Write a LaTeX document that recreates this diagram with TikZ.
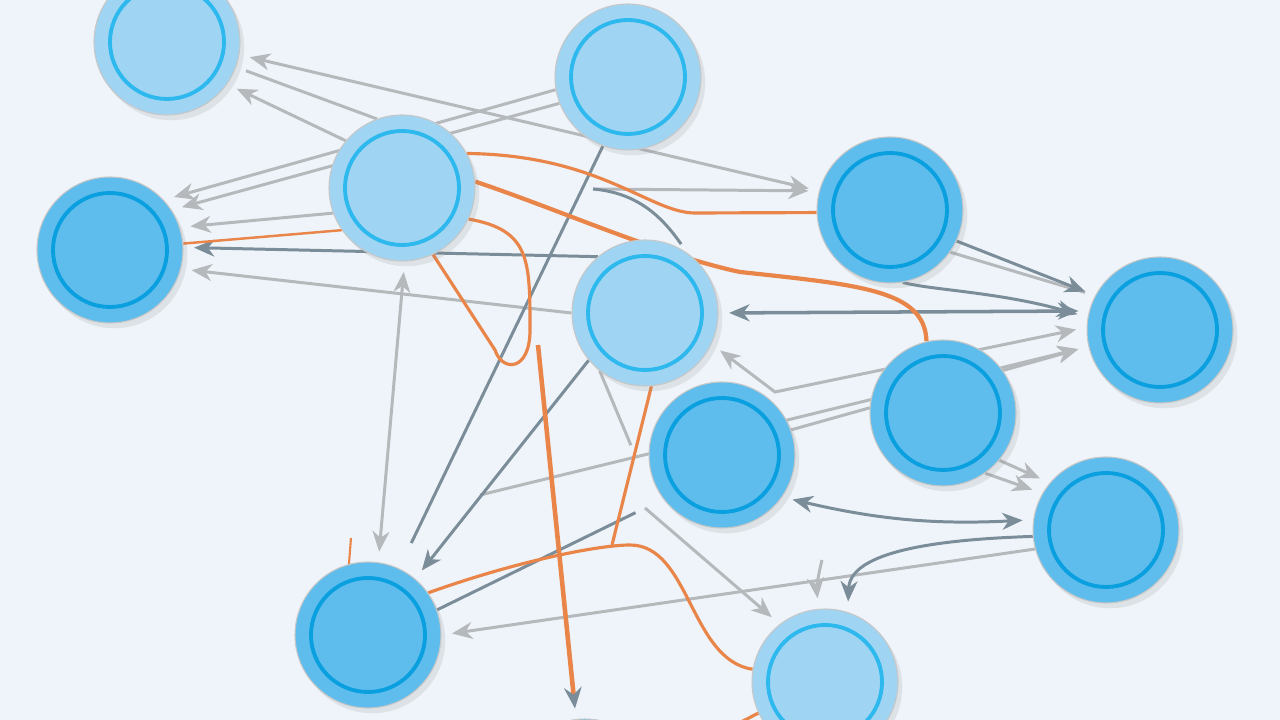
\documentclass[tikz,border=0pt]{standalone}
\usetikzlibrary{arrows.meta,shadows}

\definecolor{bgcol}{HTML}{EEF4F9}
\definecolor{lgray}{HTML}{B5B9BC}
\definecolor{dgray}{HTML}{7B8D99}
\definecolor{org}{HTML}{EA8549}
\definecolor{lfill}{HTML}{A0D4F3}
\definecolor{lring}{HTML}{2DB8EE}
\definecolor{dfill}{HTML}{5EBDEC}
\definecolor{dring}{HTML}{0A9FDF}

\pgfdeclarelayer{bg}
\pgfdeclarelayer{edges}
\pgfsetlayers{bg,edges,main}

\begin{document}
\begin{tikzpicture}[
        >={Stealth[length=5.8pt,width=4.8pt,inset=1.8pt]},
        lnode/.style={circle, minimum size=1.46cm, inner sep=0pt, fill=lfill,
            draw=black!22, line width=0.3pt,
            drop shadow={shadow xshift=1.2pt, shadow yshift=-1.5pt, opacity=0.15},
            path picture={\draw[lring, line width=1.1pt] (path picture bounding box.center) circle (0.57cm);}},
        dnode/.style={lnode, fill=dfill,
            path picture={\draw[dring, line width=1.1pt] (path picture bounding box.center) circle (0.57cm);}},
        lg/.style={draw=lgray, line width=0.85pt, shorten >=3pt},
        dg/.style={draw=dgray, line width=0.85pt, shorten >=3pt},
        og/.style={draw=org, line width=0.9pt}
    ]
    \useasboundingbox (0,0) rectangle (12.8,-7.2);
    \begin{pgfonlayer}{bg}
        \fill[bgcol] (0,0) rectangle (12.8,-7.2);
    \end{pgfonlayer}

    % nodes
    \node[lnode] (a) at (1.67,-0.42) {};
    \node[lnode] (b) at (6.28,-0.77) {};
    \node[lnode] (c) at (4.02,-1.88) {};
    \node[dnode] (d) at (1.10,-2.50) {};
    \node[dnode] (e) at (8.90,-2.10) {};
    \node[lnode] (f) at (6.45,-3.13) {};
    \node[dnode] (g) at (11.60,-3.30) {};
    \node[dnode] (h) at (9.43,-4.13) {};
    \node[dnode] (i) at (7.22,-4.55) {};
    \node[dnode] (j) at (11.06,-5.30) {};
    \node[dnode] (k) at (3.68,-6.35) {};
    \node[lnode] (l) at (8.25,-6.82) {};
    \node[dnode] (m) at (5.85,-7.92) {};

    % free ends
    \coordinate (p1) at (5.93,-1.89);
    \coordinate (o1) at (5.38,-3.45);
    \coordinate (o2) at (6.12,-5.45);
    \coordinate (q1) at (8.22,-5.60);
    \coordinate (kp) at (6.45,-5.08);
    \coordinate (s1) at (4.80,-4.95);
    \coordinate (s2) at (6.35,-4.55);
    \coordinate (rv) at (7.75,-3.92);

    \begin{pgfonlayer}{edges}
        % light grey
        \draw[lg,<->,shorten <=3pt] (a.-10) -- (e.165);
        \draw[lg,->] (b.190) -- (d.43);
        \draw[lg,->] (b.201) -- (d.33);
        \draw[lg,->] (c.200) -- (d.18);
        \draw[lg,->] (f.180) -- (d.-15);
        \draw[lg,->] (c.140) -- (a.-35);
        \draw[lg] (c.110) -- (a.-20);
        \draw[lg,<->,shorten <=3pt] (c.-88) -- (k.82);
        \draw[lg,->] (p1) -- (e.165);
        \draw[lg,<->,shorten <=3pt] (f.-25) -- (rv) -- (g.178);
        \draw[lg,->] (s1) -- (g.193);
        \draw[lg,->] (i.20) -- (g.193);
        \draw[lg,->] (h.-40) -- (j.140);
        \draw[lg,->] (h.-55) -- (j.150);
        \draw[lg,->] (j.195) -- (k.0);
        \draw[lg,->] (kp) -- (l.128);
        \draw[lg,->] (q1) to[bend right=10] (l.95);
        \draw[lg] (f.232) -- (s2);
        \draw[lg] (e.-35) -- (g.152);
        % dark grey
        \draw[dg] (p1) to[out=-5,in=125] (f.55);
        \draw[dg,->] (f.130) -- (d.2);
        \draw[dg,->] (f.220) -- (k.50);
        \draw[dg,shorten >=8pt] (b.-110) -- (k.65);
        \draw[dg] (k.20) -- (kp);
        \draw[dg,<->,shorten <=3pt,line width=1pt] (f.0) -- (g.165);
        \draw[dg,->] (e.-25) -- (g.152);
        \draw[dg,->] (e.-80) .. controls (9.3,-2.9) and (10.0,-2.92) .. (g.170);
        \draw[dg,<->,shorten <=3pt] (i.-35) to[bend right=8] (j.172);
        \draw[dg,->] (j.185) .. controls (9.2,-5.4) and (8.5,-5.55) .. (l.72);
        % orange
        \draw[og,line width=0.7pt] (c.215) -- (d.5);
        \draw[og] (c.28) .. controls (6.0,-1.55) and (6.5,-2.13) .. (6.95,-2.13) -- (e.182);
        \draw[og,line width=1.2pt] (c.5) .. controls (5.6,-2.1) and (6.6,-2.55) .. (7.4,-2.72)
            .. controls (8.6,-2.85) and (9.25,-2.9) .. (h.103);
        \draw[og] (c.-25) .. controls (5.3,-2.3) and (5.3,-2.6) .. (5.3,-3.3)
            .. controls (5.3,-3.72) and (5.02,-3.72) .. (4.95,-3.5) -- (c.-65);
        \draw[og,line width=1.3pt,shorten >=3pt,-{Stealth[length=6pt,width=5pt,inset=2pt,color=dgray]}] (o1) -- (m.97);
        \draw[og] (f.-85) -- (o2);
        \draw[og] (k.35) .. controls (5.2,-5.6) and (6.0,-5.45) .. (6.3,-5.45)
            .. controls (6.9,-5.45) and (6.9,-6.6) .. (l.170);
        \draw[og] (l.205) -- (m.20);
        \draw[og,line width=0.6pt] (k.105) -- ++(0.02,0.26);
    \end{pgfonlayer}
\end{tikzpicture}
\end{document}
